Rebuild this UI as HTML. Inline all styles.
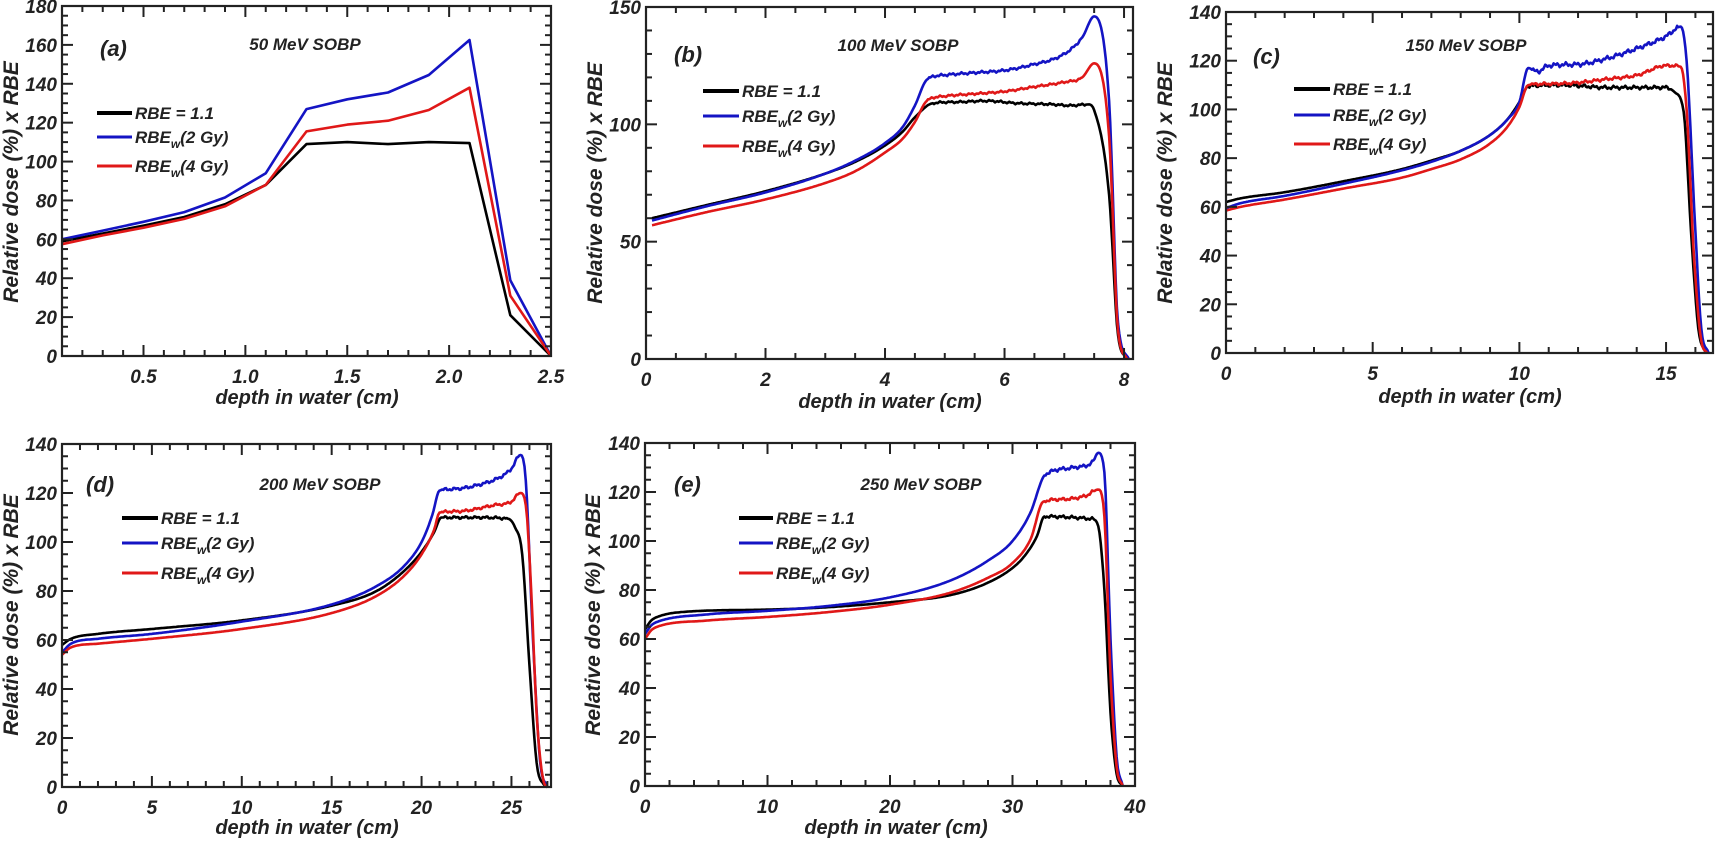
<!DOCTYPE html>
<html><head><meta charset="utf-8"><style>
html,body{margin:0;padding:0;background:#fff;}
svg{display:block;}
text{font-family:"Liberation Sans",sans-serif;font-weight:bold;font-style:italic;fill:#222;}
</style></head><body>
<svg id="s" width="1716" height="845" viewBox="0 0 1716 845" xmlns="http://www.w3.org/2000/svg"></svg>
<script>
const S=document.getElementById('s');let H='';
function P(cfg){
 const {L,R,T,B,x0,x1,y1,xmaj,xmin,ymaj,ymin,xlabels,fmt}=cfg;
 const X=v=>L+(v-x0)/(x1-x0)*(R-L), Y=v=>B-v/y1*(B-T);
 const cols=['#000','#1414c4','#e01818'];
 cfg.data.forEach((d,i)=>{
  let pts=[];
  for(let k=0;k<d.length;k+=2){pts.push(X(d[k]).toFixed(1)+','+Y(d[k+1]).toFixed(1));}
  H+=`<polyline points="${pts.join(' ')}" fill="none" stroke="${cols[i]}" stroke-width="2.6" stroke-linejoin="round"/>`;
 });
 H+=`<rect x="${L}" y="${T}" width="${R-L}" height="${B-T}" fill="none" stroke="#222" stroke-width="2.2"/>`;
 const e=1e-6;
 for(let v=Math.ceil((x0-e)/xmin)*xmin;v<=x1+e;v+=xmin){
  const maj=Math.abs(v/xmaj-Math.round(v/xmaj))<1e-4, l=maj?11:6, x=X(v);
  H+=`<line x1="${x}" y1="${B}" x2="${x}" y2="${B-l}" stroke="#222" stroke-width="2"/><line x1="${x}" y1="${T}" x2="${x}" y2="${T+l}" stroke="#222" stroke-width="2"/>`;
 }
 for(let v=0;v<=y1+e;v+=ymin){
  const maj=Math.abs(v/ymaj-Math.round(v/ymaj))<1e-4, l=maj?11:6, y=Y(v);
  H+=`<line x1="${L}" y1="${y}" x2="${L+l}" y2="${y}" stroke="#222" stroke-width="2"/><line x1="${R}" y1="${y}" x2="${R-l}" y2="${y}" stroke="#222" stroke-width="2"/>`;
  if(maj)H+=`<text x="${L-5}" y="${y+7}" font-size="19" text-anchor="end">${Math.round(v)}</text>`;
 }
 xlabels.forEach(v=>{H+=`<text x="${X(v)}" y="${B+27}" font-size="19" text-anchor="middle">${fmt?v.toFixed(1):v}</text>`;});
 H+=`<text x="${cfg.xt[0]}" y="${cfg.xt[1]}" font-size="20" text-anchor="middle">depth in water (cm)</text>`;
 H+=`<text transform="translate(${cfg.yt[0]},${cfg.yt[1]}) rotate(-90)" font-size="21" text-anchor="middle">Relative dose (%) x RBE</text>`;
 H+=`<text x="${cfg.pl[0]}" y="${cfg.pl[1]}" font-size="22">${cfg.pl[2]}</text>`;
 H+=`<text x="${cfg.tt[0]}" y="${cfg.tt[1]}" font-size="17" text-anchor="middle">${cfg.tt[2]}</text>`;
 const [lx1,lx2,ly]=cfg.lg;
 const labs=['RBE = 1.1','RBE<tspan font-size="12" dy="5">w</tspan><tspan dy="-5">(2 Gy)</tspan>','RBE<tspan font-size="12" dy="5">w</tspan><tspan dy="-5">(4 Gy)</tspan>'];
 ly.forEach((y,i)=>{H+=`<line x1="${lx1}" y1="${y}" x2="${lx2}" y2="${y}" stroke="${cols[i]}" stroke-width="${i==0?4:3}"/><text x="${lx2+3}" y="${y+6}" font-size="17">${labs[i]}</text>`;});
}
function noisy(d,from,amp){
 const xs=[],ys=[];for(let k=0;k<d.length;k+=2){xs.push(d[k]);ys.push(d[k+1]);}
 const n=xs.length,m=[],dl=[];
 for(let i=0;i<n-1;i++)dl.push((ys[i+1]-ys[i])/(xs[i+1]-xs[i]));
 for(let i=0;i<n;i++){if(i==0)m.push(dl[0]);else if(i==n-1)m.push(dl[n-2]);else m.push(dl[i-1]*dl[i]<=0?0:(dl[i-1]+dl[i])/2);}
 for(let i=0;i<n-1;i++){if(dl[i]==0){m[i]=0;m[i+1]=0;continue;}const a=m[i]/dl[i],b=m[i+1]/dl[i],s=a*a+b*b;if(s>9){const t=3/Math.sqrt(s);m[i]=t*a*dl[i];m[i+1]=t*b*dl[i];}}
 const span=xs[n-1]-xs[0],r=[];
 for(let i=0;i<n-1;i++){const h=xs[i+1]-xs[i],N=Math.max(1,Math.round(h/(span/400)));
  for(let j=0;j<N;j++){const t=j/N,t2=t*t,t3=t2*t;let y=(2*t3-3*t2+1)*ys[i]+(t3-2*t2+t)*h*m[i]+(-2*t3+3*t2)*ys[i+1]+(t3-t2)*h*m[i+1];const x=xs[i]+h*t;
   if(from&&x>from[0]&&x<from[1])y+=(Math.sin(x*37.1/span*8)+Math.sin(x*91.7/span*8))*amp;r.push(x,y);}}
 r.push(xs[n-1],ys[n-1]);return r;}
P({L:62,R:551,T:6,B:356,x0:0.1,x1:2.5,y1:180,xmaj:0.5,xmin:0.1,ymaj:20,ymin:5,xlabels:[0.5,1.0,1.5,2.0,2.5],fmt:1,
 xt:[307,404],yt:[18,182],pl:[100,56,'(a)'],tt:[305,50,'50 MeV SOBP'],lg:[97,132,[113,137,166]],
 data:[[0.1,59,0.3,63,0.5,67,0.7,71.5,0.9,78,1.1,88,1.3,109,1.5,110,1.7,109,1.9,110,2.1,109.5,2.3,21,2.5,0],
 [0.1,60,0.3,64.5,0.5,69,0.7,74,0.9,81.5,1.1,94,1.3,127,1.5,132,1.7,135.5,1.9,144.5,2.1,162.5,2.3,39,2.5,0],
 [0.1,57.5,0.3,62,0.5,66,0.7,70.5,0.9,77,1.1,88,1.3,115.5,1.5,119,1.7,121,1.9,126.5,2.1,138,2.3,31,2.5,0]]});
P({L:646,R:1133,T:7,B:359,x0:0,x1:8.15,y1:150,xmaj:2,xmin:0.5,ymaj:50,ymin:10,xlabels:[0,2,4,6,8],
 xt:[890,408],yt:[602,183],pl:[674,62,'(b)'],tt:[898,51,'100 MeV SOBP'],lg:[703,739,[91,116,146]],
 data:[noisy([0.1,60,1,65.5,2,71.5,3,79,3.5,84,4,91,4.3,97,4.5,103,4.8,109,5.2,109.5,5.7,110,6.2,109,6.8,108.5,7.1,108,7.4,108.5,7.5,106,7.75,70,7.9,10,8.05,0],[4.8,7.4],0.25),
 noisy([0.1,59,1,65,2,71,3,79,3.5,84.5,4,92,4.3,99,4.5,108,4.7,119,5,121,5.5,122,6,123,6.4,125,7,130,7.3,137,7.5,146,7.75,110,7.9,15,8.08,0],[4.7,7.3],0.3),
 noisy([0.1,57,1,62.5,2,68,3,75,3.5,80,4,88,4.3,94,4.5,101,4.7,110,5,112,5.5,113,6,114,6.5,116,7,118,7.3,120,7.5,126,7.75,95,7.9,12,8.05,0],[4.7,7.3],0.25)]});
P({L:1226,R:1713,T:12,B:353,x0:0,x1:16.6,y1:140,xmaj:5,xmin:1,ymaj:20,ymin:5,xlabels:[0,5,10,15],
 xt:[1470,403],yt:[1172,183],pl:[1253,64,'(c)'],tt:[1466,51,'150 MeV SOBP'],lg:[1294,1330,[89,115,144]],
 data:[noisy([0,62,0.5,63.5,2,66,4,70.5,6,75.5,7,79,8,83,9,89.5,9.6,96,10,103,10.3,109.5,11.5,110,13,109,15,109,15.3,107,15.6,99,15.85,50,16.1,10,16.35,0],[10.3,15.2],0.4),
 noisy([0,59.5,0.5,61.5,2,64.5,4,69.5,6,75,7,78.5,8,83,9,89.5,9.6,96,10,103,10.3,117,10.6,115.5,11,118,12,118.5,13,121,14,125,15,130,15.5,134,15.7,120,16,50,16.2,10,16.45,0],[10.4,15.4],0.5),
 noisy([0,58.5,0.5,60,2,63,4,67.5,6,72,7,75.5,8,79.5,9,86,9.6,93,10,101,10.3,110,11,110.5,12,111,13,112.5,14,114,15,118,15.5,117.5,15.7,100,15.95,40,16.2,5,16.4,0],[10.4,15.4],0.35)]});
P({L:62,R:551,T:444,B:787,x0:0,x1:27.2,y1:140,xmaj:5,xmin:1,ymaj:20,ymin:5,xlabels:[0,5,10,15,20,25],
 xt:[307,834],yt:[18,615],pl:[86,492,'(d)'],tt:[320,490,'200 MeV SOBP'],lg:[122,158,[518,543,573]],
 data:[noisy([0,58,0.5,60.5,2,62.5,5,64.5,10,68,15,74,17.5,80,19,88,20,96,20.7,104,21.1,110,23,110,24.8,109.5,25.2,106,25.6,95,26,50,26.4,10,26.8,1,27,0],[21.1,24.8],0.3),
 noisy([0,55,0.5,58.5,2,60.5,5,62.5,10,67.5,15,74.5,17.5,82,19,90,20,100,20.6,111,21,121,21.5,121.5,23,123,24.5,127,25,130,25.5,135.5,25.8,125,26.2,60,26.6,10,27,0],[21,25.3],0.35),
 noisy([0,54,0.5,57,2,58.5,5,60.5,10,64.5,15,71,17.5,78,19,86,20,95,20.7,105,21,112,22,112.5,24,115,25,116.5,25.5,120,25.8,115,26.1,80,26.4,30,26.8,2,27,0],[21,25.3],0.3)]});
P({L:645,R:1135,T:443,B:786,x0:0,x1:40,y1:140,xmaj:10,xmin:2,ymaj:20,ymin:5,xlabels:[0,10,20,30,40],
 xt:[896,834],yt:[600,615],pl:[674,492,'(e)'],tt:[921,490,'250 MeV SOBP'],lg:[739,773,[518,543,573]],
 data:[noisy([0,64,0.5,67.5,1,69,3,71,10,72,15,73,20,75,25,78,28,83,30,89,31,94,32,102,32.6,110,36.5,109,37,106,37.5,80,38,30,38.5,5,39,0],[32.6,36.8],0.35),
 noisy([0,62,0.5,65.5,1,67,5,70,10,71.5,15,73.5,20,77,25,84,28,92,30,100,31.5,112,32.5,126,33,128,35,130,36.5,132,37,136,37.5,128,38,60,38.5,12,39,0],[32.6,36.8],0.4),
 noisy([0,60,0.5,63.5,1,65,5,67.5,10,69,15,71,20,74,25,79,28,85,30,91,31.5,101,32.5,116,34,117,36,118.5,37,121,37.5,110,38,45,38.5,8,39,0],[32.6,36.8],0.35)]});
S.innerHTML=H;
</script>
</body></html>
